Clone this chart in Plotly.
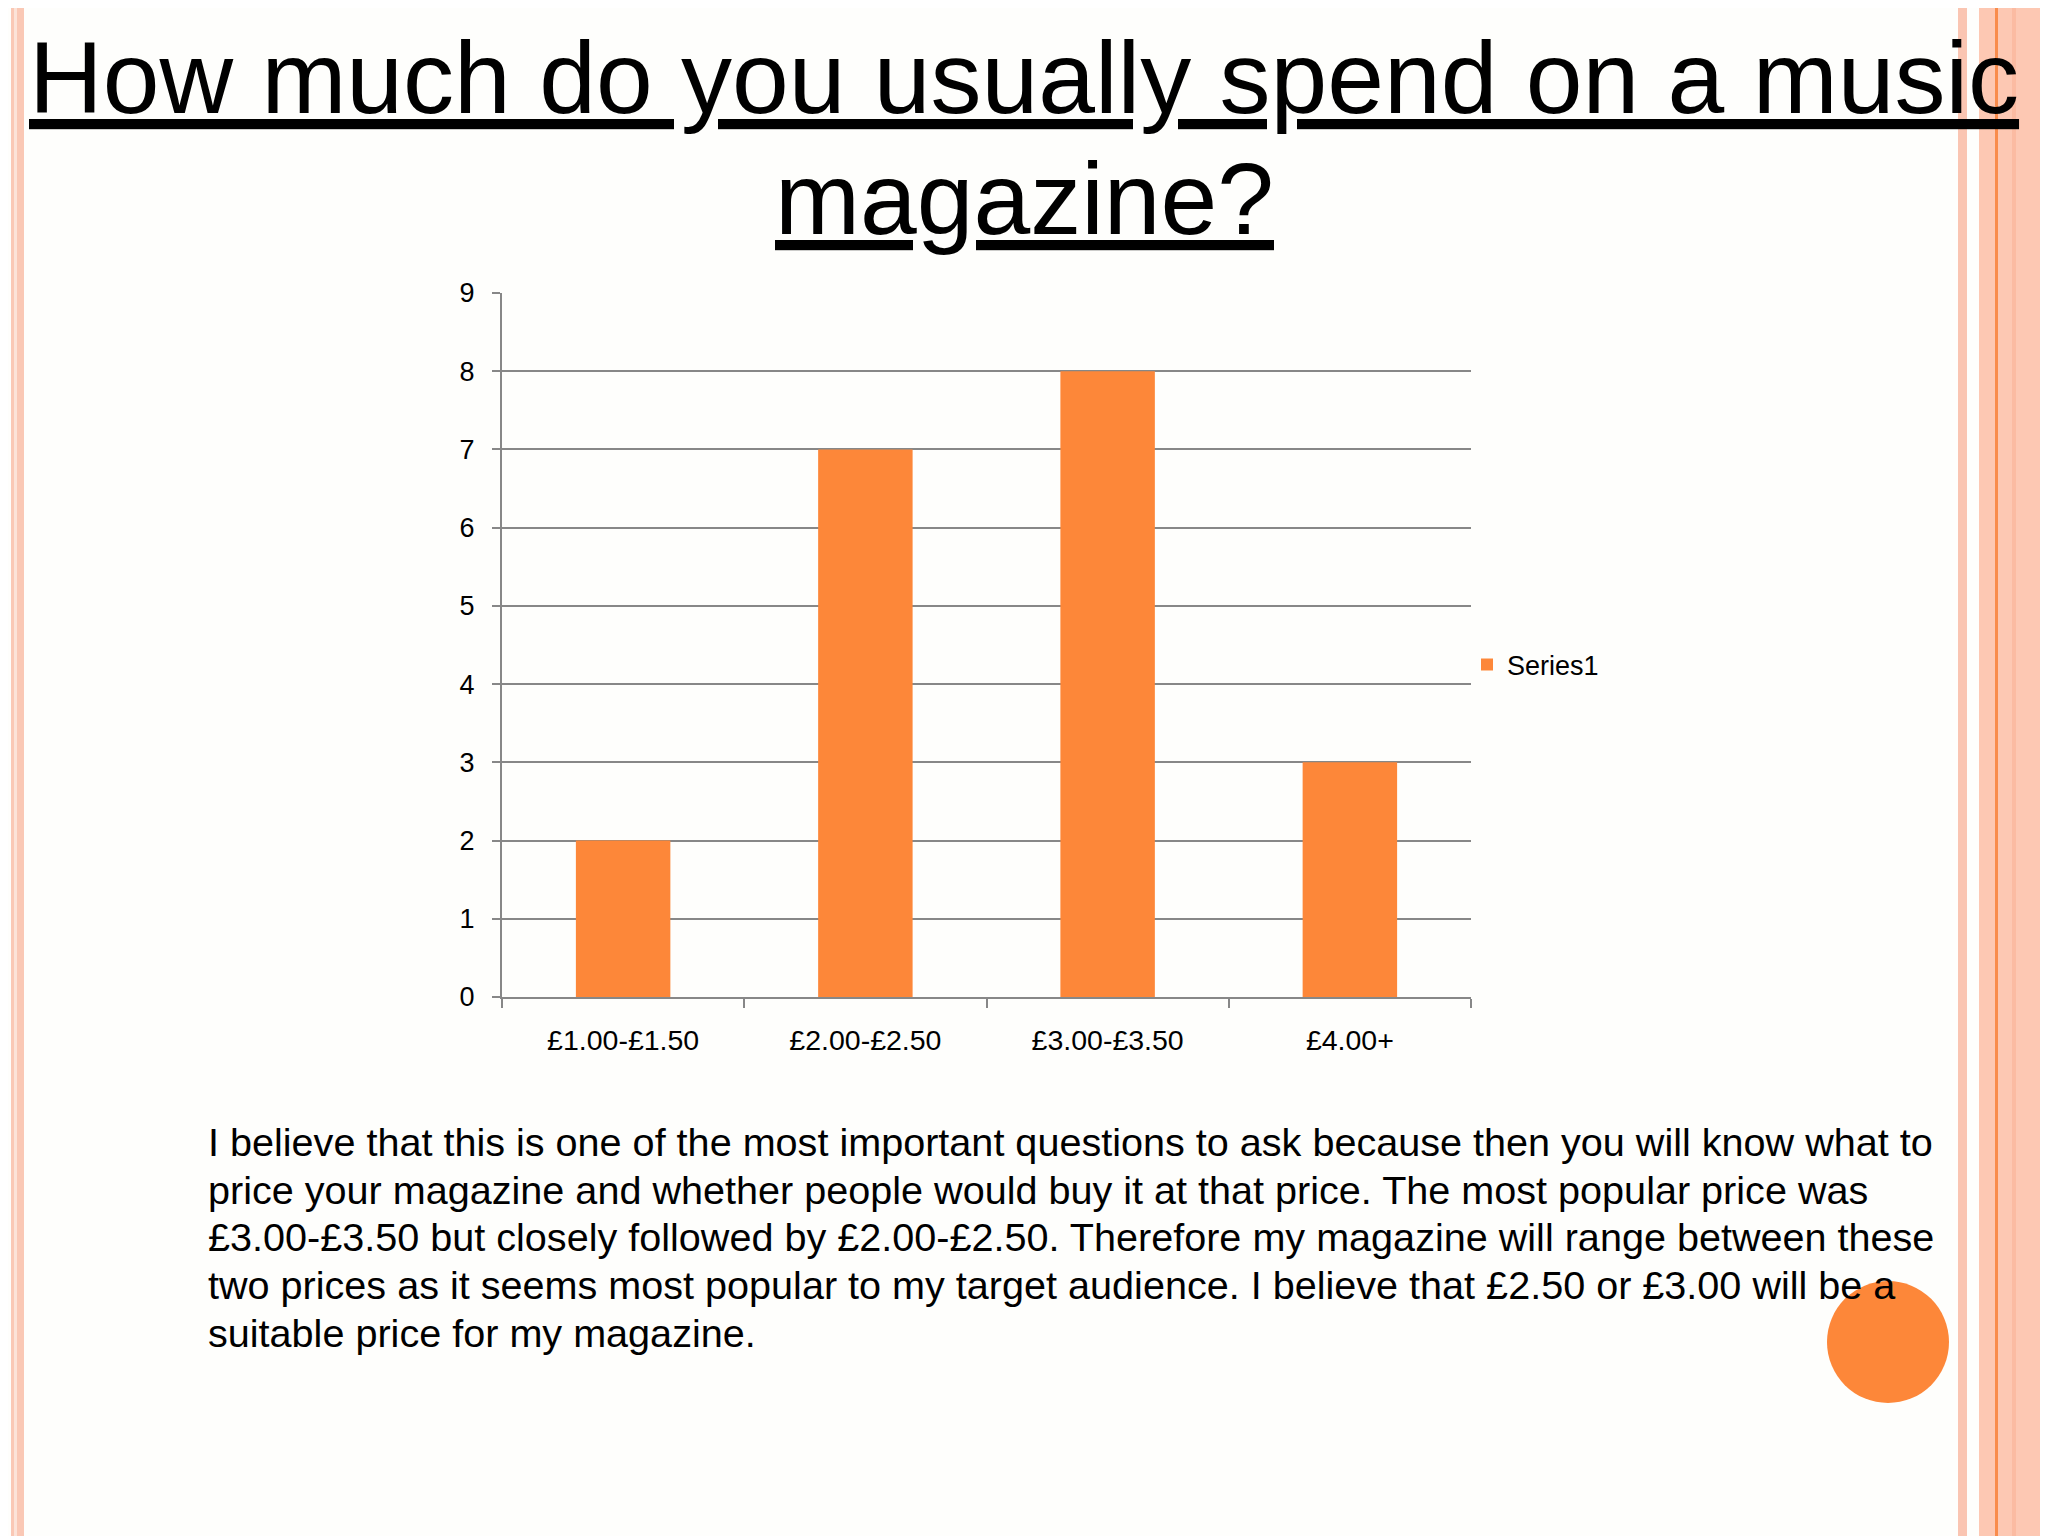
import plotly.graph_objects as go

# ---- data ----
categories = ["£1.00-£1.50", "£2.00-£2.50", "£3.00-£3.50", "£4.00+"]
values = [2, 7, 8, 3]
series_name = "Series1"
y_tick_values = [0, 1, 2, 3, 4, 5, 6, 7, 8, 9]
title_lines = ["How much do you usually spend on a music", "magazine?"]
body_lines = [
    "I believe that this is one of the most important questions to ask because then you will know what to",
    "price your magazine and whether people would buy it at that price. The most popular price was",
    "£3.00-£3.50 but closely followed by £2.00-£2.50. Therefore my magazine will range between these",
    "two prices as it seems most popular to my target audience. I believe that £2.50 or £3.00 will be a",
    "suitable price for my magazine.",
]

# page body has an 8px margin, so the figure starts at (8, 8)
OFF = 8
W, H = 2048 - OFF, 1536 - OFF
FONT = "Arial, Liberation Sans, sans-serif"
ORANGE = "#FD8739"
GRID = "#878787"


def px(x):
    return (x - OFF) / W


def py(y):
    return 1 - (y - OFF) / H


fig = go.Figure()
fig.add_trace(go.Bar(x=categories, y=values, name=series_name,
                     marker=dict(color=ORANGE, line=dict(width=0)),
                     showlegend=True))

shapes = []
# left border stripes
shapes.append(dict(type="rect", xref="paper", yref="paper", x0=px(11), x1=px(24), y0=0, y1=1,
                   fillcolor="#FAC8B5", line=dict(width=0), layer="below"))
shapes.append(dict(type="rect", xref="paper", yref="paper", x0=px(14), x1=px(17), y0=0, y1=1,
                   fillcolor="#FCE3D8", line=dict(width=0), layer="below"))
# right border stripes
for x0, x1, col in [(1958, 1967, "#FAC5B2"), (1979, 2048, "#FDC8B3"),
                    (1995, 1998, "#F98C4C"), (2012, 2016, "#FBBBA2")]:
    shapes.append(dict(type="rect", xref="paper", yref="paper", x0=px(x0), x1=px(x1), y0=0, y1=1,
                       fillcolor=col, line=dict(width=0), layer="below"))
# orange circle
shapes.append(dict(type="circle", xref="paper", yref="paper",
                   x0=px(1827), x1=px(1949), y0=py(1403), y1=py(1281),
                   fillcolor=ORANGE, line=dict(width=0), layer="below"))

annotations = []
title_mids = [78, 199]
for line, mid in zip(title_lines, title_mids):
    annotations.append(dict(text="<u>" + line + "</u>", xref="paper", yref="paper",
                            x=px(1024), y=py(mid), xanchor="center", yanchor="middle",
                            showarrow=False, font=dict(family=FONT, size=102, color="black")))
body_mids = [1142, 1190, 1237, 1285, 1333]
for line, mid in zip(body_lines, body_mids):
    annotations.append(dict(text=line, xref="paper", yref="paper",
                            x=px(206), y=py(mid), xanchor="left", yanchor="middle", align="left",
                            showarrow=False, font=dict(family=FONT, size=39.6, color="black")))

fig.update_layout(
    width=W, height=H,
    margin=dict(l=0, r=0, t=0, b=0),
    paper_bgcolor="#FEFEFC", plot_bgcolor="rgba(0,0,0,0)",
    font=dict(family=FONT, color="black"),
    bargap=0.61,
    shapes=shapes,
    annotations=annotations,
    showlegend=True,
    legend=dict(x=px(1467), y=py(665), xanchor="left", yanchor="middle",
                font=dict(family=FONT, size=27, color="black"),
                bgcolor="rgba(0,0,0,0)", itemwidth=30),
    xaxis=dict(domain=[px(502), px(1471)], type="category", range=[-0.5, 3.5],
               showline=True, linecolor=GRID, linewidth=2,
               ticks="outside", tickson="boundaries", ticklen=9, tickwidth=2, tickcolor=GRID,
               tickfont=dict(family=FONT, size=28.5, color="black"),
               ticklabelstandoff=17, showgrid=False, automargin=False, fixedrange=True),
    yaxis=dict(domain=[py(997), py(293)], range=[0, 9], tickvals=y_tick_values,
               showline=True, linecolor=GRID, linewidth=2,
               ticks="outside", ticklen=8, tickwidth=2, tickcolor=GRID,
               showgrid=True, gridcolor=GRID, gridwidth=2, zeroline=False,
               tickfont=dict(family=FONT, size=27, color="black"),
               ticklabelstandoff=12, automargin=False, fixedrange=True),
)

fig.write_html("out.html")
